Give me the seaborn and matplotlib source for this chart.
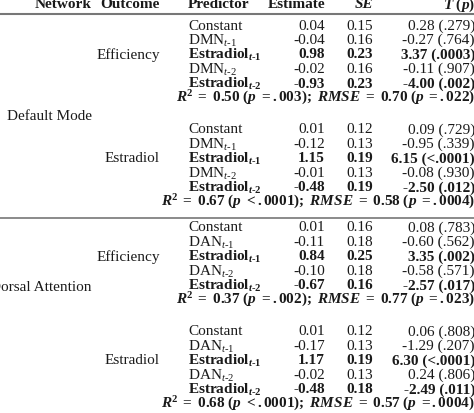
import matplotlib
matplotlib.use("Agg")
import matplotlib.pyplot as plt
import seaborn as sns

sns.set_theme(style="white")
plt.rcParams['font.family'] = ['Liberation Serif', 'DejaVu Serif']
plt.rcParams['mathtext.fontset'] = 'custom'
plt.rcParams['mathtext.rm'] = 'Liberation Serif'
plt.rcParams['mathtext.it'] = 'Liberation Serif:italic'
plt.rcParams['mathtext.bf'] = 'Liberation Serif:bold'
plt.rcParams['mathtext.bfit'] = 'Liberation Serif:italic:bold'

networks = ["Default Mode", "Dorsal Attention"]
net_abbr = ["DMN", "DAN"]
outcomes = ["Efficiency", "Estradiol"]
predictors = ["Constant", "{n}_1", "Estradiol_1", "{n}_2", "Estradiol_2"]
bold_rows = [False, False, True, False, True]
estimates = [[["0.04", "-0.04", "0.98", "-0.02", "-0.93"], ["0.01", "-0.12", "1.15", "-0.01", "-0.48"]],
             [["0.01", "-0.11", "0.84", "-0.10", "-0.67"], ["0.01", "-0.17", "1.17", "-0.02", "-0.48"]]]
ses = [[["0.15", "0.16", "0.23", "0.16", "0.23"], ["0.12", "0.13", "0.19", "0.13", "0.19"]],
       [["0.16", "0.18", "0.25", "0.18", "0.16"], ["0.12", "0.13", "0.19", "0.13", "0.18"]]]
tps = [[["0.28 (.279)", "-0.27 (.764)", "3.37 (.0003)", "-0.11 (.907)", "-4.00 (.002)"],
        ["0.09 (.729)", "-0.95 (.339)", "6.15 (<.0001)", "-0.08 (.930)", "-2.50 (.012)"]],
       [["0.08 (.783)", "-0.60 (.562)", "3.35 (.002)", "-0.58 (.571)", "-2.57 (.017)"],
        ["0.06 (.808)", "-1.29 (.207)", "6.30 (<.0001)", "0.24 (.806)", "-2.49 (.011)"]]]
r2 = [[("0.50", "= .003", "0.70", "= .022"), ("0.67", "<.0001", "0.58", "= .0004")],
      [("0.37", "= .002", "0.77", "= .023"), ("0.68", "<.0001", "0.57", "= .0004")]]

W, H = 474, 414
fig = plt.figure(figsize=(4.74, 4.14), dpi=100)
ax = fig.add_axes([0, 0, 1, 1])
ax.set_xlim(0, W); ax.set_ylim(H, 0); ax.axis('off')
fs = 11
col = '#1a1a1a'
XR = 475

def t(x, y, s, ha='left', bold=False, italic=False, size=fs):
    ax.text(x, y, s, ha=ha, va='center', fontsize=size, color=col,
            fontweight='bold' if bold else 'normal', fontstyle='italic' if italic else 'normal')

t(92, 5, "Network", 'right', True)
t(160, 5, "Outcome", 'right', True)
t(188, 5, "Predictor", 'left', True)
t(325, 5, "Estimate", 'right', True)
t(373, 5, "SE", 'right', True, True)
ax.text(XR, 5, "$\\mathbfit{T}\\ \\mathbf{(}\\mathbfit{p}\\mathbf{)}$", ha='right', va='center', fontsize=fs, color=col)
ax.plot([0, W], [15, 15], color='#777777', lw=1.5)
ax.plot([0, W], [219, 219], color='#777777', lw=1.2)

block_tops = [[26, 130], [228, 332]]
net_y = [117, 288]
step = 14.5
for ni in range(2):
    t(92, net_y[ni], networks[ni], 'right')
    for oi in range(2):
        y0 = block_tops[ni][oi]
        t(160, y0 + 2 * step, outcomes[oi], 'right')
        for ri in range(5):
            y = y0 + ri * step
            b = bold_rows[ri]
            p = predictors[ri]
            if p == "Constant":
                lab = "Constant"
            else:
                base, k = p.split("_")
                base = base.format(n=net_abbr[ni])
                if b:
                    lab = "$\\mathbf{%s}_{\\mathbfit{t}\\mathbf{\\text{-}%s}}$" % (base, k)
                else:
                    lab = "$\\mathrm{%s}_{\\mathit{t}\\text{-}%s}$" % (base, k)
            t(188, y, lab, 'left', b)
            t(325, y, estimates[ni][oi][ri], 'right', b)
            t(373, y, ses[ni][oi][ri], 'right', b)
            t(XR, y, tps[ni][oi][ri], 'right', b)
        a, pa, c, pc = r2[ni][oi]
        s = ("$\\mathbfit{R}^{\\mathbf{2}}\\mathbf{\\ =\\ %s\\ (}\\mathbfit{p}\\mathbf{\\ %s);\\ }"
             "\\mathbfit{RMSE}\\mathbf{\\ =\\ %s\\ (}\\mathbfit{p}\\mathbf{\\ %s)}$"
             % (a, pa, c, pc))
        ax.text(XR, y0 + 5 * step - 1, s, ha='right', va='center', fontsize=fs, color=col)

fig.savefig("out.png", dpi=100)
